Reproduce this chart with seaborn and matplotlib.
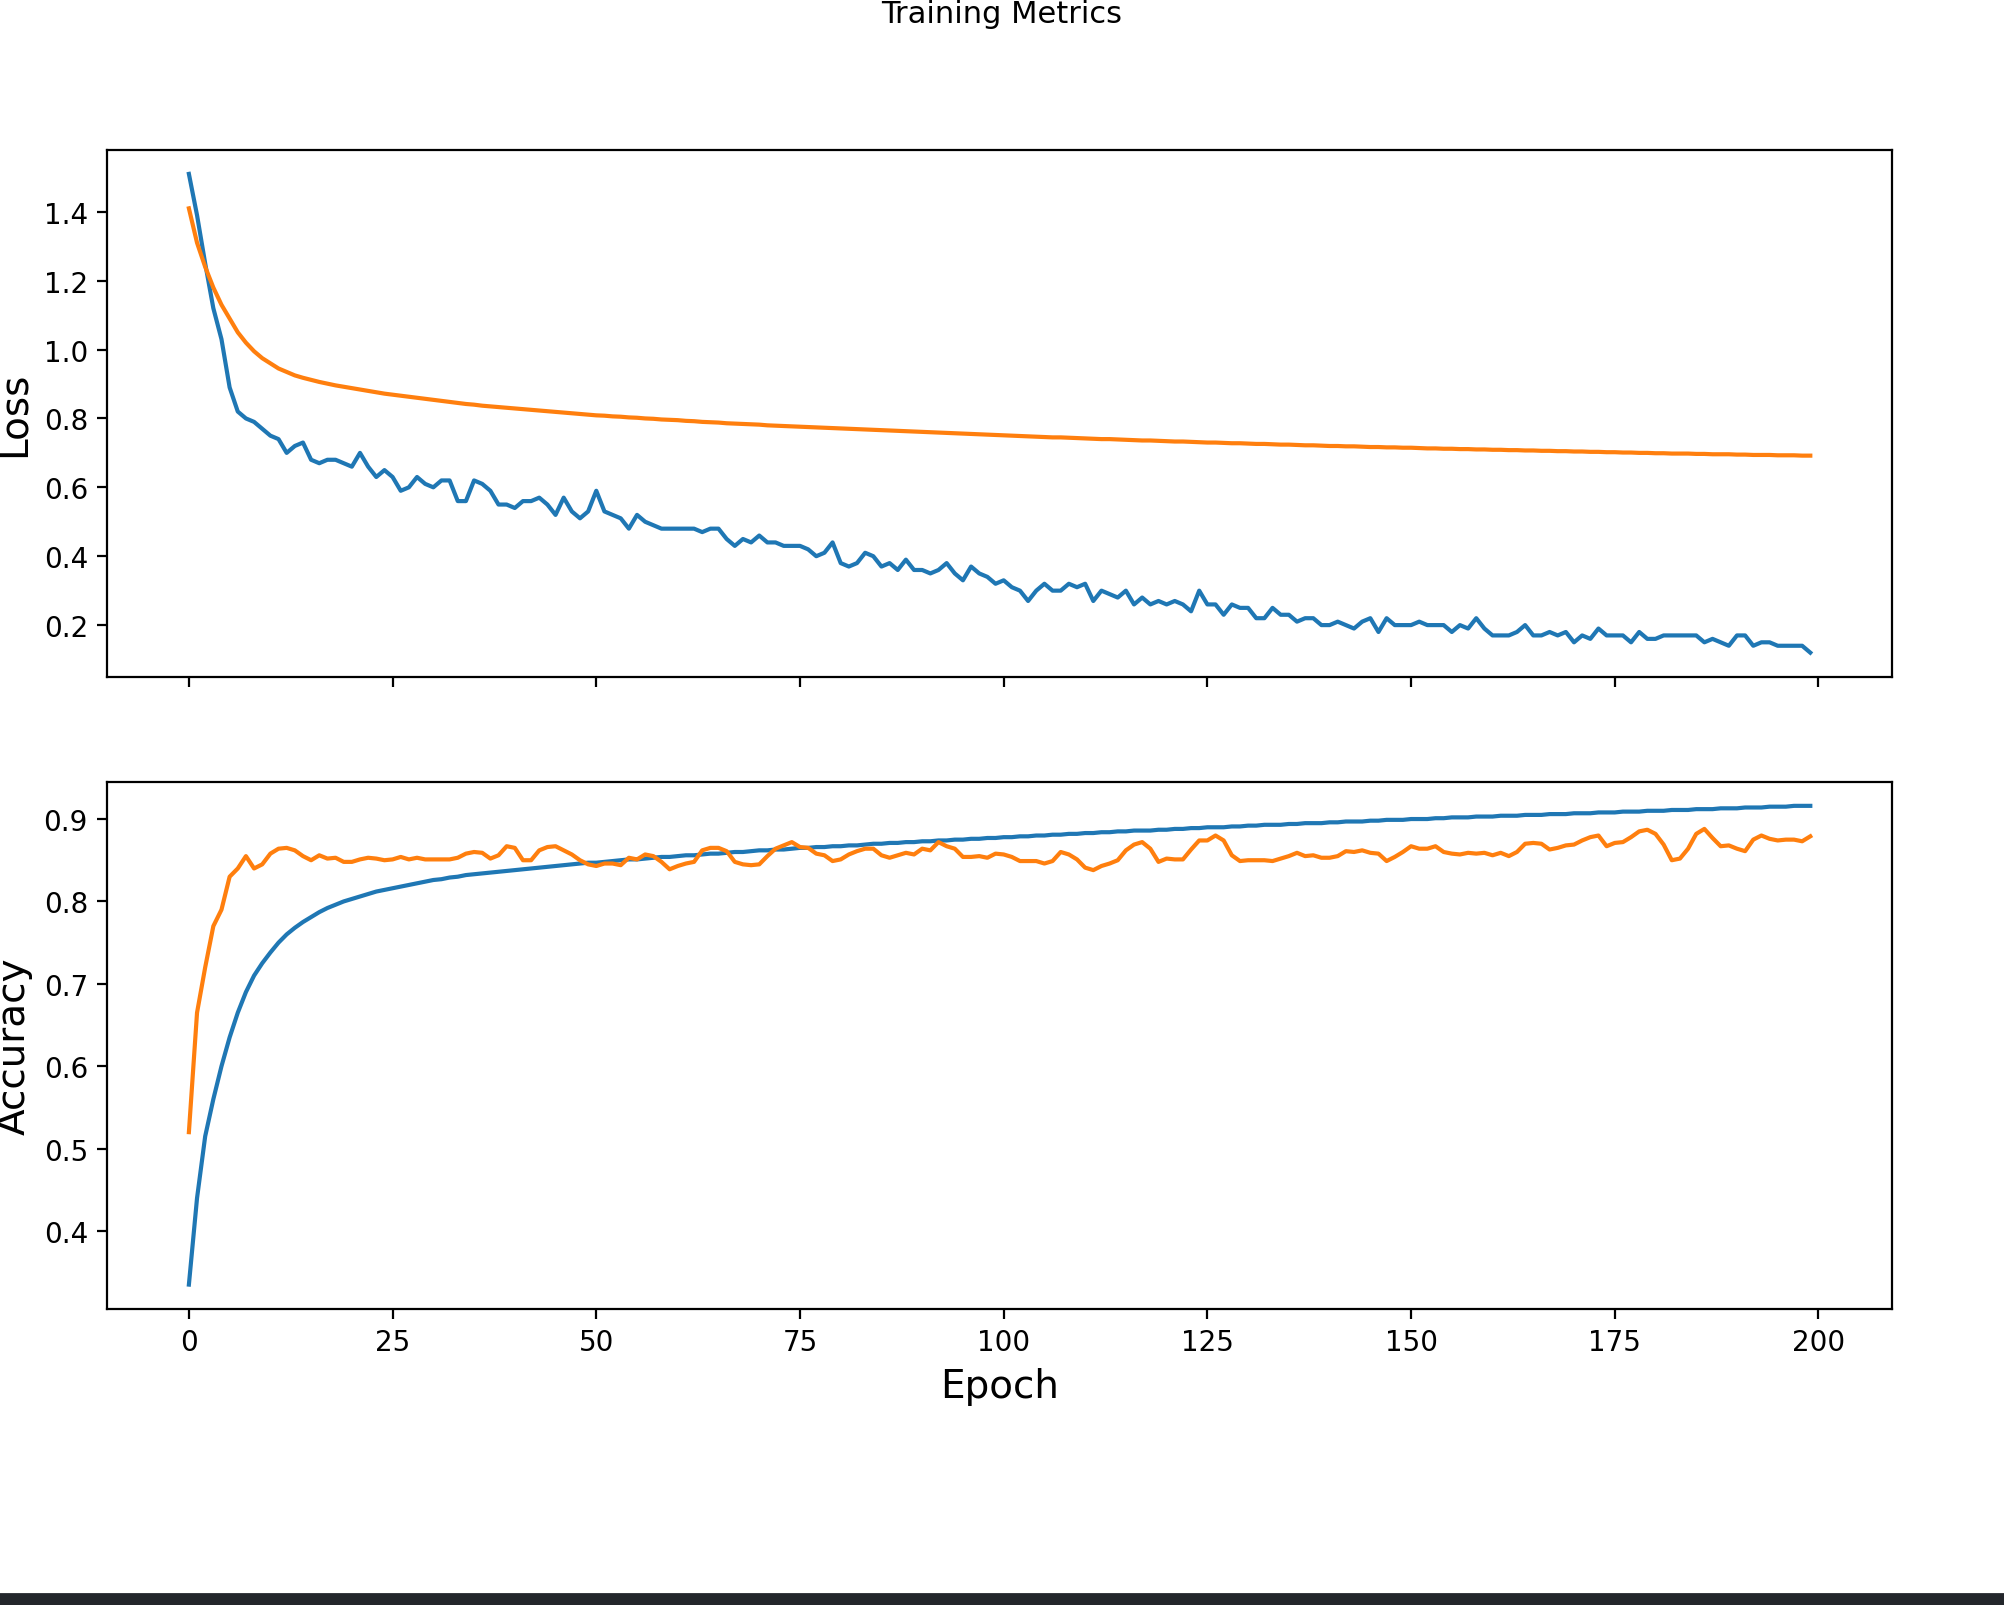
import numpy as np
import pandas as pd
import seaborn as sns
import matplotlib
matplotlib.use("Agg")
import matplotlib.pyplot as plt
from matplotlib.patches import Rectangle

train_loss = [
1.51,1.39,1.25,1.12,1.03,0.89,0.82,0.80,0.79,0.77,
0.75,0.74,0.70,0.72,0.73,0.68,0.67,0.68,0.68,0.67,
0.66,0.70,0.66,0.63,0.65,0.63,0.59,0.60,0.63,0.61,
0.60,0.62,0.62,0.56,0.56,0.62,0.61,0.59,0.55,0.55,
0.54,0.56,0.56,0.57,0.55,0.52,0.57,0.53,0.51,0.53,
0.59,0.53,0.52,0.51,0.48,0.52,0.50,0.49,0.48,0.48,
0.48,0.48,0.48,0.47,0.48,0.48,0.45,0.43,0.45,0.44,
0.46,0.44,0.44,0.43,0.43,0.43,0.42,0.40,0.41,0.44,
0.38,0.37,0.38,0.41,0.40,0.37,0.38,0.36,0.39,0.36,
0.36,0.35,0.36,0.38,0.35,0.33,0.37,0.35,0.34,0.32,
0.33,0.31,0.30,0.27,0.30,0.32,0.30,0.30,0.32,0.31,
0.32,0.27,0.30,0.29,0.28,0.30,0.26,0.28,0.26,0.27,
0.26,0.27,0.26,0.24,0.30,0.26,0.26,0.23,0.26,0.25,
0.25,0.22,0.22,0.25,0.23,0.23,0.21,0.22,0.22,0.20,
0.20,0.21,0.20,0.19,0.21,0.22,0.18,0.22,0.20,0.20,
0.20,0.21,0.20,0.20,0.20,0.18,0.20,0.19,0.22,0.19,
0.17,0.17,0.17,0.18,0.20,0.17,0.17,0.18,0.17,0.18,
0.15,0.17,0.16,0.19,0.17,0.17,0.17,0.15,0.18,0.16,
0.16,0.17,0.17,0.17,0.17,0.17,0.15,0.16,0.15,0.14,
0.17,0.17,0.14,0.15,0.15,0.14,0.14,0.14,0.14,0.12]

val_loss = [
1.41,1.31,1.24,1.18,1.13,1.09,1.05,1.02,0.995,0.975,
0.96,0.945,0.935,0.925,0.918,0.912,0.906,0.901,0.896,0.892,
0.888,0.884,0.880,0.876,0.872,0.869,0.866,0.863,0.860,0.857,
0.854,0.851,0.848,0.845,0.842,0.840,0.837,0.835,0.833,0.831,
0.829,0.827,0.825,0.823,0.821,0.819,0.817,0.815,0.813,0.811,
0.809,0.808,0.806,0.805,0.803,0.802,0.800,0.799,0.797,0.796,
0.795,0.793,0.792,0.790,0.789,0.788,0.786,0.785,0.784,0.783,
0.782,0.780,0.779,0.778,0.777,0.776,0.775,0.774,0.773,0.772,
0.771,0.770,0.769,0.768,0.767,0.766,0.765,0.764,0.763,0.762,
0.761,0.760,0.759,0.758,0.757,0.756,0.755,0.754,0.753,0.752,
0.751,0.750,0.749,0.748,0.747,0.746,0.745,0.745,0.744,0.743,
0.742,0.741,0.740,0.740,0.739,0.738,0.737,0.736,0.736,0.735,
0.734,0.733,0.733,0.732,0.731,0.730,0.730,0.729,0.728,0.728,
0.727,0.726,0.726,0.725,0.724,0.724,0.723,0.722,0.722,0.721,
0.720,0.720,0.719,0.719,0.718,0.717,0.717,0.716,0.716,0.715,
0.715,0.714,0.713,0.713,0.712,0.712,0.711,0.711,0.710,0.710,
0.709,0.709,0.708,0.708,0.707,0.707,0.706,0.706,0.705,0.705,
0.704,0.704,0.703,0.703,0.702,0.702,0.701,0.701,0.700,0.700,
0.699,0.699,0.698,0.698,0.698,0.697,0.697,0.696,0.696,0.696,
0.695,0.695,0.694,0.694,0.694,0.693,0.693,0.693,0.692,0.692]

train_acc = [
0.335,0.44,0.515,0.56,0.60,0.635,0.665,0.69,0.71,0.725,
0.738,0.75,0.76,0.768,0.775,0.781,0.787,0.792,0.796,0.80,
0.803,0.806,0.809,0.812,0.814,0.816,0.818,0.820,0.822,0.824,
0.826,0.827,0.829,0.830,0.832,0.833,0.834,0.835,0.836,0.837,
0.838,0.839,0.840,0.841,0.842,0.843,0.844,0.845,0.846,0.847,
0.847,0.848,0.849,0.850,0.851,0.851,0.852,0.853,0.854,0.854,
0.855,0.856,0.856,0.857,0.858,0.858,0.859,0.860,0.860,0.861,
0.862,0.862,0.863,0.863,0.864,0.865,0.865,0.866,0.866,0.867,
0.867,0.868,0.868,0.869,0.870,0.870,0.871,0.871,0.872,0.872,
0.873,0.873,0.874,0.874,0.875,0.875,0.876,0.876,0.877,0.877,
0.878,0.878,0.879,0.879,0.880,0.880,0.881,0.881,0.882,0.882,
0.883,0.883,0.884,0.884,0.885,0.885,0.886,0.886,0.886,0.887,
0.887,0.888,0.888,0.889,0.889,0.890,0.890,0.890,0.891,0.891,
0.892,0.892,0.893,0.893,0.893,0.894,0.894,0.895,0.895,0.895,
0.896,0.896,0.897,0.897,0.897,0.898,0.898,0.899,0.899,0.899,
0.900,0.900,0.900,0.901,0.901,0.902,0.902,0.902,0.903,0.903,
0.903,0.904,0.904,0.904,0.905,0.905,0.905,0.906,0.906,0.906,
0.907,0.907,0.907,0.908,0.908,0.908,0.909,0.909,0.909,0.910,
0.910,0.910,0.911,0.911,0.911,0.912,0.912,0.912,0.913,0.913,
0.913,0.914,0.914,0.914,0.915,0.915,0.915,0.916,0.916,0.916]

val_acc = [
0.52,0.665,0.72,0.77,0.79,0.83,0.84,0.855,0.84,0.845,
0.858,0.864,0.865,0.862,0.855,0.85,0.856,0.852,0.853,0.848,
0.848,0.851,0.853,0.852,0.850,0.851,0.854,0.851,0.853,0.851,
0.851,0.851,0.851,0.853,0.858,0.86,0.859,0.852,0.856,0.867,
0.865,0.85,0.85,0.862,0.866,0.867,0.862,0.857,0.85,0.845,
0.843,0.846,0.846,0.844,0.853,0.851,0.857,0.855,0.848,0.839,
0.843,0.846,0.848,0.862,0.865,0.865,0.861,0.848,0.845,0.844,
0.845,0.855,0.864,0.868,0.872,0.866,0.865,0.858,0.856,0.849,
0.851,0.857,0.861,0.864,0.864,0.856,0.853,0.856,0.859,0.857,
0.864,0.862,0.872,0.867,0.864,0.854,0.854,0.855,0.853,0.858,
0.857,0.854,0.849,0.849,0.849,0.846,0.849,0.86,0.857,0.851,
0.841,0.838,0.843,0.846,0.85,0.862,0.869,0.872,0.864,0.848,
0.852,0.851,0.851,0.863,0.874,0.874,0.88,0.874,0.856,0.849,
0.85,0.85,0.85,0.849,0.852,0.855,0.859,0.855,0.856,0.853,
0.853,0.855,0.861,0.86,0.862,0.859,0.858,0.849,0.854,0.86,
0.867,0.864,0.864,0.867,0.86,0.858,0.857,0.859,0.858,0.859,
0.856,0.859,0.855,0.86,0.87,0.871,0.87,0.863,0.865,0.868,
0.869,0.874,0.878,0.88,0.867,0.871,0.872,0.878,0.885,0.887,
0.882,0.869,0.85,0.852,0.864,0.882,0.888,0.877,0.867,0.868,
0.864,0.861,0.875,0.88,0.876,0.874,0.875,0.875,0.873,0.879]

epochs = np.arange(len(train_loss))
df = pd.DataFrame({"epoch": epochs, "train_loss": train_loss, "val_loss": val_loss,
                   "train_acc": train_acc, "val_acc": val_acc})

blue, orange = "#1f77b4", "#ff7f0e"
fig, (ax1, ax2) = plt.subplots(2, 1, figsize=(10.02, 8.03), dpi=200, sharex=True)
fig.subplots_adjust(left=0.0536, right=0.944, top=0.906, bottom=0.1846, hspace=0.2)

sns.lineplot(data=df, x="epoch", y="train_loss", ax=ax1, color=blue, linewidth=1.5)
sns.lineplot(data=df, x="epoch", y="val_loss", ax=ax1, color=orange, linewidth=1.5)
sns.lineplot(data=df, x="epoch", y="train_acc", ax=ax2, color=blue, linewidth=1.5)
sns.lineplot(data=df, x="epoch", y="val_acc", ax=ax2, color=orange, linewidth=1.5)

ax1.set_ylabel("Loss", fontsize=14)
ax2.set_ylabel("Accuracy", fontsize=14)
ax1.set_xlabel("")
ax2.set_xlabel("Epoch", fontsize=14)
ax1.set_yticks([0.2, 0.4, 0.6, 0.8, 1.0, 1.2, 1.4])
ax2.set_yticks([0.4, 0.5, 0.6, 0.7, 0.8, 0.9])
ax2.set_xticks([0, 25, 50, 75, 100, 125, 150, 175, 200])
ax2.set_xlim(-10, 209)
fig.suptitle("Training Metrics", y=1.0, fontsize=11)

fig.patches.append(Rectangle((0, 0), 1, 0.007, transform=fig.transFigure,
                             color="#23262b", zorder=10))
fig.savefig("out.png", dpi=200)
